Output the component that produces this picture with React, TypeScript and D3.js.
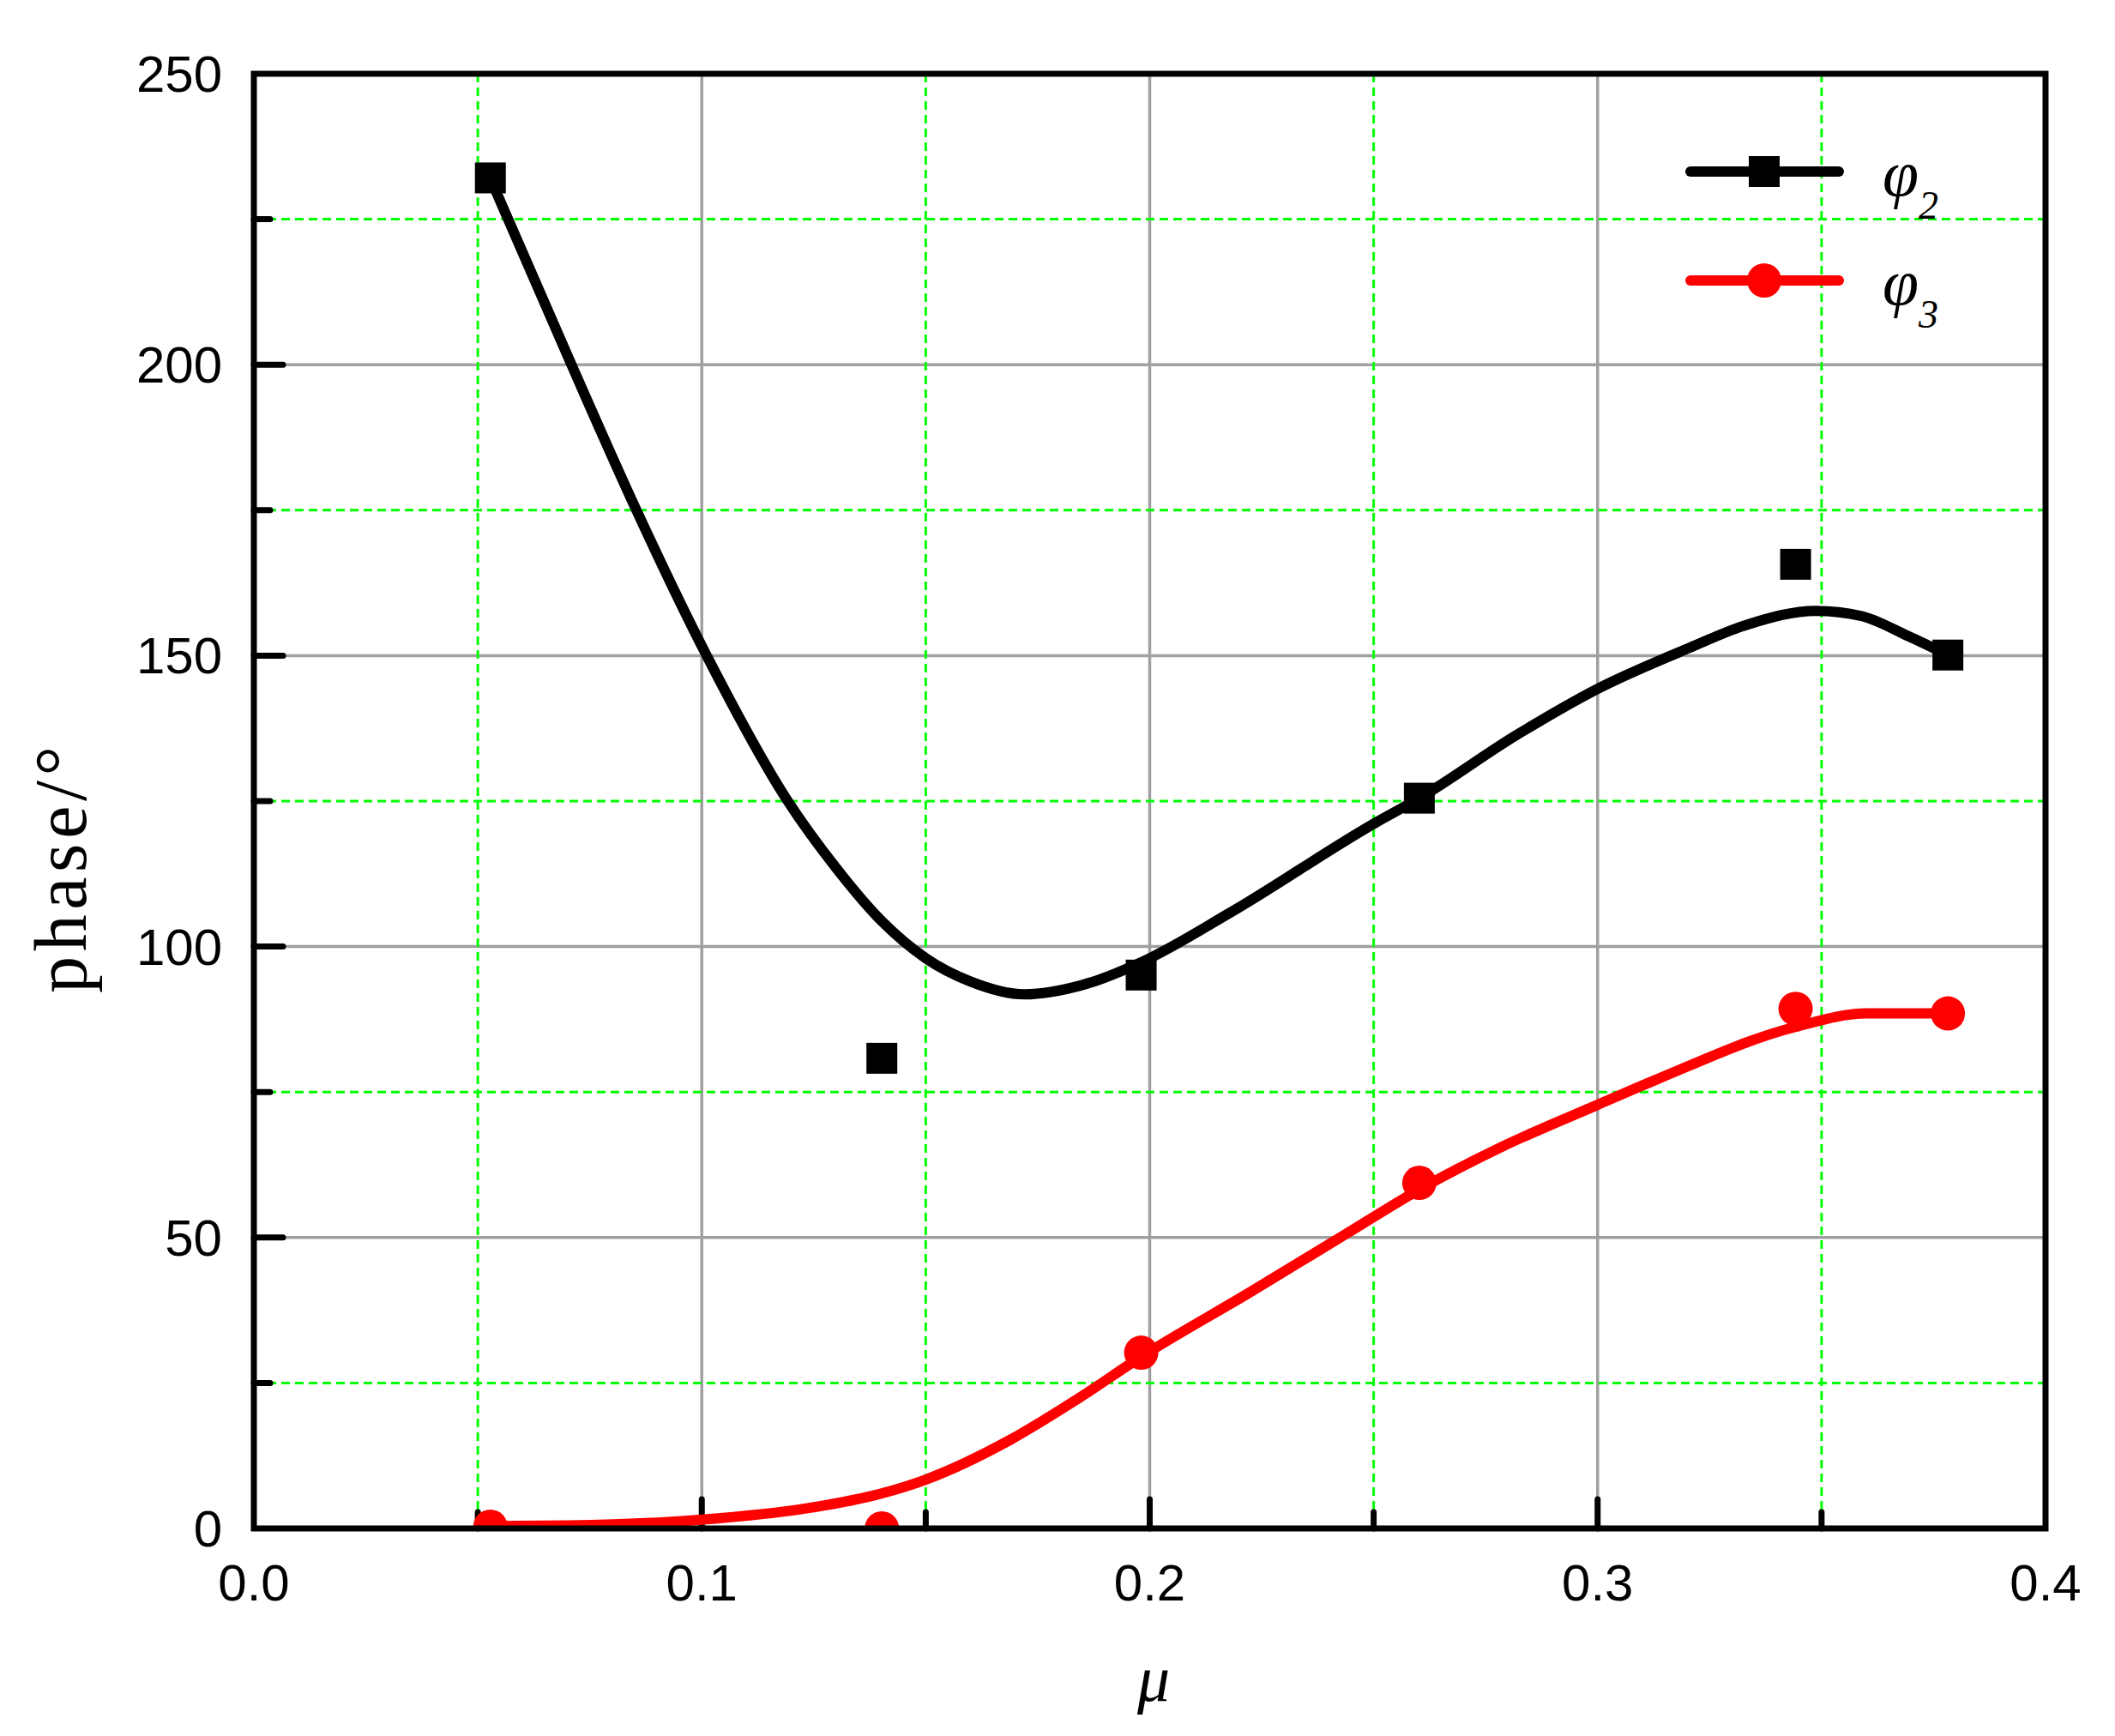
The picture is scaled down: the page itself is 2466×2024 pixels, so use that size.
import * as d3 from "d3";

// measured markers (mu, phase)
const muValues = [0.0528, 0.1402, 0.1981, 0.2602, 0.3442, 0.3782];
const phi2Values = [232.1, 80.8, 95.1, 125.5, 165.7, 150.1];
const phi3Values = [0.3, 0.0, 30.2, 59.4, 89.3, 88.5];

// fitted curves
const phi2FitMu = [0.0528, 0.0709, 0.0854, 0.1011, 0.1192, 0.13, 0.14, 0.15, 0.16, 0.172, 0.185, 0.1981, 0.2179, 0.25, 0.2602, 0.282, 0.3, 0.3204, 0.3333, 0.3487, 0.3589, 0.3692, 0.3782];
const phi2FitVal = [232, 200, 175, 150, 125, 113.5, 104.5, 98, 94, 91.8, 93.4, 97.3, 105.8, 121.1, 125.5, 136.4, 144.3, 151.3, 155.3, 157.7, 156.8, 153.4, 150.1];
const phi3FitMu = [0.0528, 0.07, 0.1, 0.123, 0.1401, 0.15, 0.1688, 0.184, 0.1981, 0.2222, 0.2436, 0.2601, 0.2784, 0.3, 0.3127, 0.3442, 0.36, 0.3782];
const phi3FitVal = [0.4, 0.5, 1.5, 3.4, 6.0, 8.4, 15.2, 22.3, 29.5, 40.5, 50.5, 58.2, 65.5, 72.8, 77, 86.2, 88.5, 88.5];

const xMajor = [0, 0.1, 0.2, 0.3, 0.4];
const xMinor = [0.05, 0.15, 0.25, 0.35];
const yMajor = [0, 50, 100, 150, 200, 250];
const yMinor = [25, 75, 125, 175, 225];

const W = 2466;
const H = 2024;
const left = 296;
const right = 2385;
const top = 86;
const bottom = 1782;

const x = d3.scaleLinear().domain([0, 0.4]).range([left, right]);
const y = d3.scaleLinear().domain([0, 250]).range([bottom, top]);

const GREEN = "#00ff00";
const GRAY = "#a0a0a0";

const line = d3
  .line<[number, number]>()
  .x((d) => x(d[0]))
  .y((d) => y(d[1]))
  .curve(d3.curveMonotoneX);

const zip = (a: number[], b: number[]) => a.map((v, i) => [v, b[i]] as [number, number]);

export default function App() {
  const sq = 36;
  const r = 20;
  const fmt = d3.format(".1f");

  return (
    <svg
      width={W}
      height={H}
      viewBox={`0 0 ${W} ${H}`}
      style={{ position: "absolute", left: 0, top: 0, background: "#fff" }}
    >
      <defs>
        <clipPath id="plot">
          <rect x={left} y={top} width={right - left} height={bottom - top} />
        </clipPath>
      </defs>
      <rect width={W} height={H} fill="#fff" />

      {/* grid */}
      {xMajor.slice(1, -1).map((t) => (
        <line key={"gx" + t} x1={x(t)} x2={x(t)} y1={top} y2={bottom} stroke={GRAY} strokeWidth={3.5} />
      ))}
      {yMajor.slice(1, -1).map((t) => (
        <line key={"gy" + t} x1={left} x2={right} y1={y(t)} y2={y(t)} stroke={GRAY} strokeWidth={3.5} />
      ))}
      {xMinor.map((t) => (
        <line key={"mx" + t} x1={x(t)} x2={x(t)} y1={top} y2={bottom} stroke={GREEN} strokeWidth={3} strokeDasharray="10 6" />
      ))}
      {yMinor.map((t) => (
        <line key={"my" + t} x1={left} x2={right} y1={y(t)} y2={y(t)} stroke={GREEN} strokeWidth={3} strokeDasharray="10 6" />
      ))}

      {/* ticks (inward) */}
      {xMajor.slice(1, -1).map((t) => (
        <line key={"tx" + t} x1={x(t)} x2={x(t)} y1={bottom} y2={bottom - 34} stroke="#000" strokeWidth={7} strokeLinecap="round" />
      ))}
      {xMinor.map((t) => (
        <line key={"tmx" + t} x1={x(t)} x2={x(t)} y1={bottom} y2={bottom - 19} stroke="#000" strokeWidth={7} strokeLinecap="round" />
      ))}
      {yMajor.slice(1, -1).map((t) => (
        <line key={"ty" + t} x1={left} x2={left + 34} y1={y(t)} y2={y(t)} stroke="#000" strokeWidth={7} strokeLinecap="round" />
      ))}
      {yMinor.map((t) => (
        <line key={"tmy" + t} x1={left} x2={left + 19} y1={y(t)} y2={y(t)} stroke="#000" strokeWidth={7} strokeLinecap="round" />
      ))}

      <g clipPath="url(#plot)">
        <path d={line(zip(phi2FitMu, phi2FitVal)) || ""} fill="none" stroke="#000" strokeWidth={12} strokeLinecap="round" strokeLinejoin="round" />
        <path d={line(zip(phi3FitMu, phi3FitVal)) || ""} fill="none" stroke="#ff0000" strokeWidth={12} strokeLinecap="round" strokeLinejoin="round" />
        {muValues.map((m, i) => (
          <rect key={"s" + i} x={x(m) - sq / 2} y={y(phi2Values[i]) - sq / 2} width={sq} height={sq} fill="#000" />
        ))}
        {muValues.map((m, i) => (
          <circle key={"c" + i} cx={x(m)} cy={y(phi3Values[i])} r={r} fill="#ff0000" />
        ))}
      </g>

      {/* frame */}
      <rect x={left} y={top} width={right - left} height={bottom - top} fill="none" stroke="#000" strokeWidth={7} />

      {/* tick labels */}
      <g fontFamily="'Liberation Sans', Arial, sans-serif" fontSize={60} fill="#000">
        {xMajor.map((t) => (
          <text key={"lx" + t} x={x(t)} y={1866} textAnchor="middle">
            {fmt(t)}
          </text>
        ))}
        {yMajor.map((t) => (
          <text key={"ly" + t} x={259} y={y(t) + 21} textAnchor="end">
            {t}
          </text>
        ))}
      </g>

      {/* axis titles */}
      <text
        transform="translate(100,1158) rotate(-90)"
        fontFamily="'Liberation Serif', 'Times New Roman', serif"
        fontSize={86}
        textLength={288}
        lengthAdjust="spacing"
      >
        phase/°
      </text>
      <text
        x={1345}
        y={1983}
        textAnchor="middle"
        fontFamily="'Liberation Serif', 'Times New Roman', serif"
        fontStyle="italic"
        fontSize={76}
      >
        μ
      </text>

      {/* legend */}
      <g>
        <line x1={1971} x2={2144} y1={200} y2={200} stroke="#000" strokeWidth={12} strokeLinecap="round" />
        <rect x={2057 - sq / 2} y={200 - sq / 2} width={sq} height={sq} fill="#000" />
        <line x1={1971} x2={2144} y1={327} y2={327} stroke="#ff0000" strokeWidth={12} strokeLinecap="round" />
        <circle cx={2057} cy={327} r={r} fill="#ff0000" />
        <g fontFamily="'Liberation Serif', 'Times New Roman', serif" fontStyle="italic" fill="#000">
          <text x={2195} y={228} fontSize={76}>
            φ<tspan fontSize={46} dy={27}>2</tspan>
          </text>
          <text x={2195} y={355} fontSize={76}>
            φ<tspan fontSize={46} dy={27}>3</tspan>
          </text>
        </g>
      </g>
    </svg>
  );
}
